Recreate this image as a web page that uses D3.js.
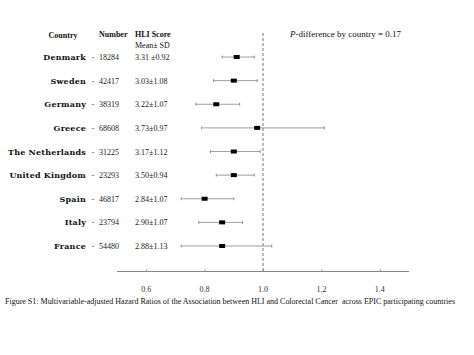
<!DOCTYPE html>
<html><head><meta charset="utf-8">
<script src="https://cdn.jsdelivr.net/npm/d3@7"></script>
<style>body{margin:0;background:#fff}svg{display:block}</style>
</head><body>
<script>
const countries = ["Denmark","Sweden","Germany","Greece","The Netherlands","United Kingdom","Spain","Italy","France"];
const numbers = ["18284","42417","38319","68608","31225","23293","46817","23794","54480"];
const hliScores = ["3.31 \u00b10.92","3.03\u00b11.08","3.22\u00b11.07","3.73\u00b10.97","3.17\u00b11.12","3.50\u00b10.94","2.84\u00b11.07","2.90\u00b11.07","2.88\u00b11.13"];
const hr = [0.91,0.90,0.84,0.98,0.90,0.90,0.80,0.86,0.86];
const lower = [0.86,0.83,0.77,0.79,0.82,0.84,0.72,0.78,0.72];
const upper = [0.97,0.98,0.92,1.21,0.99,0.97,0.90,0.93,1.03];
const xTicks = [0.6,0.8,1.0,1.2,1.4];

const W=474,H=355;
const svg=d3.select("body").append("svg").attr("width",W).attr("height",H);
const serif="Liberation Serif";
const wideSerif="DejaVu Serif";

const x=d3.scaleLinear().domain([0.5,1.5]).range([117,409]);
const y=d3.scalePoint().domain(countries).range([57,246]);
const axisY=271.5;

// dashed reference line
svg.append("line").attr("x1",x(1)).attr("x2",x(1)).attr("y1",33).attr("y2",axisY)
  .attr("stroke","#777").attr("stroke-width",1).attr("stroke-dasharray","3,2");

// axis
const ax=svg.append("g").attr("transform",`translate(0,${axisY})`)
  .call(d3.axisTop(x).tickValues(xTicks).tickSize(2).tickFormat(""));
ax.select(".domain").attr("stroke","#888").attr("d",`M${x.range()[0]},0H${x.range()[1]}`);
ax.selectAll(".tick line").attr("stroke","#888");
svg.append("g").selectAll("text").data(xTicks).join("text")
  .attr("x",d=>x(d)).attr("y",axisY+20).attr("text-anchor","middle")
  .attr("font-family",serif).attr("font-size",8).attr("fill","#333")
  .text(d=>d3.format(".1f")(d));

// error bars
const rows=countries.map((c,i)=>({c,i}));
const g=svg.append("g");
g.selectAll("line.ci").data(rows).join("line").attr("class","ci")
  .attr("x1",d=>x(lower[d.i])).attr("x2",d=>x(upper[d.i]))
  .attr("y1",d=>y(d.c)).attr("y2",d=>y(d.c)).attr("stroke","#888").attr("stroke-width",0.8);
[lower,upper].forEach(arr=>{
  g.selectAll(null).data(rows).join("line")
    .attr("x1",d=>x(arr[d.i])).attr("x2",d=>x(arr[d.i]))
    .attr("y1",d=>y(d.c)-1.5).attr("y2",d=>y(d.c)+1.5).attr("stroke","#777").attr("stroke-width",0.8);
});
g.selectAll("rect").data(rows).join("rect")
  .attr("x",d=>x(hr[d.i])-3).attr("y",d=>y(d.c)-2).attr("width",6).attr("height",4).attr("fill","#000");

// headers
const hdr=(t,xx,yy,anchor,bold,size)=>svg.append("text").attr("x",xx).attr("y",yy)
  .attr("text-anchor",anchor).attr("font-family",serif).attr("font-size",size)
  .attr("font-weight",bold?"bold":"normal").attr("fill","#111").text(t);
hdr("Country",63,38,"middle",true,8);
hdr("Number",99,37,"start",true,8);
hdr("HLI Score",135,37,"start",true,8);
hdr("Mean\u00b1 SD",135,48,"start",false,8);

// rows text
svg.append("g").selectAll("text").data(rows).join("text")
  .attr("x",86).attr("y",d=>y(d.c)+3).attr("text-anchor","end")
  .attr("font-family",wideSerif).attr("font-weight","bold").attr("font-size",8)
  .attr("letter-spacing",0.2).attr("fill","#111").text(d=>d.c);
svg.append("g").selectAll("text").data(rows).join("text")
  .attr("x",93).attr("y",d=>y(d.c)+3).attr("text-anchor","middle")
  .attr("font-family",serif).attr("font-size",8).attr("fill","#555").text("-");
svg.append("g").selectAll("text").data(rows).join("text")
  .attr("x",99).attr("y",d=>y(d.c)+3).attr("font-family",serif).attr("font-size",8)
  .attr("fill","#222").text(d=>numbers[d.i]);
svg.append("g").selectAll("text").data(rows).join("text")
  .attr("x",135).attr("y",d=>y(d.c)+3).attr("font-family",serif).attr("font-size",8)
  .attr("fill","#222").text(d=>hliScores[d.i]);

// p-difference
const pt=svg.append("text").attr("x",290).attr("y",37).attr("font-family",serif)
  .attr("font-size",9).attr("fill","#111");
pt.append("tspan").attr("font-style","italic").text("P");
pt.append("tspan").text("-difference by country = 0.17");

// caption
svg.append("text").attr("x",5).attr("y",304).attr("font-family",serif).attr("font-size",8)
  .attr("fill","#111").attr("textLength",450).attr("lengthAdjust","spacing")
  .style("white-space","pre")
  .text("Figure S1: Multivariable-adjusted Hazard Ratios of the Association between HLI and Colorectal Cancer  across EPIC participating countries");
</script>
</body></html>
